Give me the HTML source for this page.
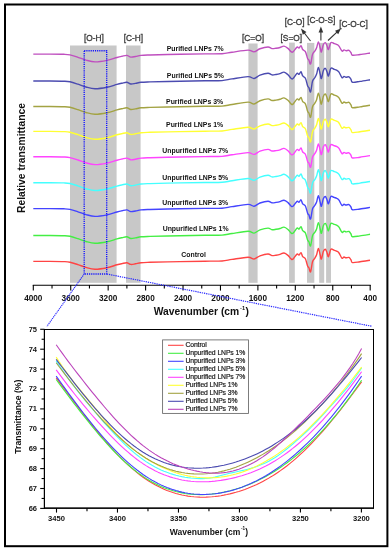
<!DOCTYPE html>
<html><head><meta charset="utf-8"><title>FTIR spectra</title>
<style>
html,body{margin:0;padding:0;background:#fff;}
body{width:391px;height:550px;overflow:hidden;font-family:"Liberation Sans",sans-serif;}
svg{display:block;will-change:transform;}
</style></head><body>
<svg width="391" height="550" viewBox="0 0 391 550">
<rect x="0" y="0" width="391" height="550" fill="#fff"/>
<rect x="70.00" y="45.50" width="46.60" height="237.30" fill="#c8c8c8"/>
<rect x="126.00" y="45.50" width="14.60" height="237.30" fill="#c8c8c8"/>
<rect x="248.40" y="43.50" width="9.20" height="239.30" fill="#c8c8c8"/>
<rect x="289.10" y="42.60" width="5.70" height="240.20" fill="#c8c8c8"/>
<rect x="307.00" y="42.90" width="7.30" height="239.90" fill="#c8c8c8"/>
<rect x="319.20" y="42.90" width="5.00" height="239.90" fill="#c8c8c8"/>
<rect x="326.10" y="42.90" width="4.90" height="239.90" fill="#c8c8c8"/>
<path d="M33.30 54.10 C36.08 54.10 44.88 54.07 50.00 54.10 C55.12 54.13 60.67 54.17 64.00 54.30 C67.33 54.43 67.67 54.40 70.00 54.90 C72.33 55.40 75.33 56.43 78.00 57.30 C80.67 58.17 83.17 59.33 86.00 60.10 C88.83 60.87 91.50 61.85 95.00 61.90 C98.50 61.95 103.33 61.13 107.00 60.40 C110.67 59.67 114.50 58.18 117.00 57.50 C119.50 56.82 120.37 56.65 122.00 56.30 C123.63 55.95 125.33 55.27 126.80 55.40 C128.27 55.53 129.35 56.92 130.80 57.10 C132.25 57.28 133.80 56.78 135.50 56.50 C137.20 56.22 138.58 55.65 141.00 55.40 C143.42 55.15 143.50 55.18 150.00 55.00 C156.50 54.82 170.83 54.48 180.00 54.30 C189.17 54.12 198.00 54.01 205.00 53.91 C212.00 53.81 217.50 54.00 222.00 53.72 C226.50 53.44 227.67 52.80 232.00 52.20 C236.33 51.60 244.33 50.17 248.00 50.11 C251.67 50.05 252.00 52.04 254.00 51.82 C256.00 51.60 257.67 49.57 260.00 48.78 C262.33 47.99 266.00 47.10 268.00 47.07 C270.00 47.04 270.67 48.40 272.00 48.59 C273.33 48.78 274.67 48.40 276.00 48.21 C277.33 48.02 278.67 47.80 280.00 47.45 C281.33 47.10 282.67 45.96 284.00 46.12 C285.33 46.28 286.83 47.48 288.00 48.40 C289.17 49.32 290.17 51.04 291.00 51.63 C291.83 52.22 292.00 52.66 293.00 51.91 C294.00 51.17 296.00 47.80 297.00 47.16 C298.00 46.53 298.33 48.35 299.00 48.12 C299.67 47.88 300.38 45.50 301.00 45.74 C301.62 45.98 301.97 48.56 302.70 49.54 C303.43 50.52 304.58 50.14 305.40 51.63 C306.22 53.12 307.02 57.06 307.60 58.47 C308.18 59.88 308.40 59.17 308.90 60.09 C309.40 61.00 310.00 64.93 310.60 63.98 C311.20 63.03 311.80 56.52 312.50 54.38 C313.20 52.25 314.12 52.25 314.80 51.16 C315.48 50.06 316.00 49.38 316.60 47.83 C317.20 46.28 317.80 41.83 318.40 41.84 C319.00 41.86 319.70 46.25 320.20 47.93 C320.70 49.60 320.88 52.44 321.40 51.91 C321.92 51.39 322.65 46.34 323.30 44.79 C323.95 43.24 324.68 42.45 325.30 42.61 C325.92 42.76 326.47 44.58 327.00 45.74 C327.53 46.90 327.87 50.05 328.50 49.54 C329.13 49.03 329.88 43.71 330.80 42.70 C331.72 41.69 332.97 43.16 334.00 43.46 C335.03 43.76 336.17 44.06 337.00 44.51 C337.83 44.95 338.17 45.03 339.00 46.12 C339.83 47.21 341.17 50.43 342.00 51.06 C342.83 51.69 343.33 49.98 344.00 49.92 C344.67 49.86 345.17 50.62 346.00 50.68 C346.83 50.74 348.17 49.97 349.00 50.30 C349.83 50.63 350.42 51.85 351.00 52.68 C351.58 53.50 351.00 54.94 352.50 55.24 C354.00 55.54 357.08 54.86 360.00 54.48 C362.92 54.10 368.33 53.21 370.00 52.96" fill="none" stroke="#bf4fbf" stroke-width="1.4" stroke-linejoin="round"/>
<path d="M33.30 81.00 C36.08 81.00 44.88 80.97 50.00 81.00 C55.12 81.03 60.67 81.07 64.00 81.20 C67.33 81.33 67.67 81.30 70.00 81.80 C72.33 82.30 75.33 83.33 78.00 84.20 C80.67 85.07 83.17 86.23 86.00 87.00 C88.83 87.77 91.50 88.75 95.00 88.80 C98.50 88.85 103.33 88.03 107.00 87.30 C110.67 86.57 114.50 85.08 117.00 84.40 C119.50 83.72 120.37 83.55 122.00 83.20 C123.63 82.85 125.33 82.17 126.80 82.30 C128.27 82.43 129.35 83.82 130.80 84.00 C132.25 84.18 133.80 83.68 135.50 83.40 C137.20 83.12 138.58 82.55 141.00 82.30 C143.42 82.05 143.50 82.08 150.00 81.90 C156.50 81.72 170.83 81.39 180.00 81.20 C189.17 81.02 198.00 80.89 205.00 80.79 C212.00 80.69 217.50 80.89 222.00 80.58 C226.50 80.27 227.67 79.56 232.00 78.90 C236.33 78.24 244.33 76.66 248.00 76.59 C251.67 76.52 252.00 78.73 254.00 78.48 C256.00 78.23 257.67 76.00 260.00 75.12 C262.33 74.25 266.00 73.27 268.00 73.23 C270.00 73.20 270.67 74.70 272.00 74.91 C273.33 75.12 274.67 74.70 276.00 74.49 C277.33 74.28 278.67 74.03 280.00 73.65 C281.33 73.27 282.67 72.01 284.00 72.18 C285.33 72.36 286.83 73.69 288.00 74.70 C289.17 75.72 290.17 77.62 291.00 78.27 C291.83 78.92 292.00 79.41 293.00 78.58 C294.00 77.76 296.00 74.03 297.00 73.33 C298.00 72.63 298.33 74.65 299.00 74.39 C299.67 74.12 300.38 71.50 301.00 71.76 C301.62 72.02 301.97 74.88 302.70 75.96 C303.43 77.04 304.58 76.62 305.40 78.27 C306.22 79.91 307.02 84.27 307.60 85.83 C308.18 87.39 308.40 86.60 308.90 87.61 C309.40 88.63 310.00 92.97 310.60 91.92 C311.20 90.87 311.80 83.68 312.50 81.31 C313.20 78.95 314.12 78.95 314.80 77.75 C315.48 76.54 316.00 75.78 316.60 74.07 C317.20 72.35 317.80 67.44 318.40 67.45 C319.00 67.47 319.70 72.32 320.20 74.17 C320.70 76.03 320.88 79.16 321.40 78.58 C321.92 78.01 322.65 72.42 323.30 70.71 C323.95 68.99 324.68 68.12 325.30 68.30 C325.92 68.47 326.47 70.48 327.00 71.76 C327.53 73.04 327.87 76.52 328.50 75.96 C329.13 75.40 329.88 69.52 330.80 68.40 C331.72 67.28 332.97 68.91 334.00 69.24 C335.03 69.57 336.17 69.91 337.00 70.39 C337.83 70.88 338.17 70.97 339.00 72.18 C339.83 73.39 341.17 76.94 342.00 77.64 C342.83 78.34 343.33 76.45 344.00 76.38 C344.67 76.31 345.17 77.15 346.00 77.22 C346.83 77.29 348.17 76.43 349.00 76.80 C349.83 77.17 350.42 78.52 351.00 79.42 C351.58 80.33 351.00 81.93 352.50 82.26 C354.00 82.59 357.08 81.84 360.00 81.42 C362.92 81.00 368.33 80.02 370.00 79.74" fill="none" stroke="#4b4bb0" stroke-width="1.4" stroke-linejoin="round"/>
<path d="M33.30 106.50 C36.08 106.50 44.88 106.47 50.00 106.50 C55.12 106.53 60.67 106.57 64.00 106.70 C67.33 106.83 67.67 106.80 70.00 107.30 C72.33 107.80 75.33 108.83 78.00 109.70 C80.67 110.57 83.17 111.73 86.00 112.50 C88.83 113.27 91.50 114.25 95.00 114.30 C98.50 114.35 103.33 113.53 107.00 112.80 C110.67 112.07 114.50 110.58 117.00 109.90 C119.50 109.22 120.37 109.05 122.00 108.70 C123.63 108.35 125.33 107.67 126.80 107.80 C128.27 107.93 129.35 109.32 130.80 109.50 C132.25 109.68 133.80 109.18 135.50 108.90 C137.20 108.62 138.58 108.05 141.00 107.80 C143.42 107.55 143.50 107.58 150.00 107.40 C156.50 107.22 170.83 106.88 180.00 106.70 C189.17 106.52 198.00 106.40 205.00 106.29 C212.00 106.19 217.50 106.40 222.00 106.09 C226.50 105.78 227.67 105.09 232.00 104.44 C236.33 103.79 244.33 102.24 248.00 102.17 C251.67 102.11 252.00 104.27 254.00 104.03 C256.00 103.79 257.67 101.59 260.00 100.73 C262.33 99.87 266.00 98.91 268.00 98.88 C270.00 98.84 270.67 100.32 272.00 100.53 C273.33 100.73 274.67 100.32 276.00 100.11 C277.33 99.91 278.67 99.67 280.00 99.29 C281.33 98.91 282.67 97.68 284.00 97.85 C285.33 98.02 286.83 99.32 288.00 100.32 C289.17 101.32 290.17 103.19 291.00 103.82 C291.83 104.46 292.00 104.94 293.00 104.13 C294.00 103.32 296.00 99.67 297.00 98.98 C298.00 98.29 298.33 100.27 299.00 100.01 C299.67 99.75 300.38 97.18 301.00 97.44 C301.62 97.69 301.97 100.49 302.70 101.56 C303.43 102.62 304.58 102.21 305.40 103.82 C306.22 105.44 307.02 109.71 307.60 111.24 C308.18 112.77 308.40 111.99 308.90 112.99 C309.40 113.98 310.00 118.24 310.60 117.21 C311.20 116.18 311.80 109.13 312.50 106.81 C313.20 104.49 314.12 104.49 314.80 103.31 C315.48 102.12 316.00 101.38 316.60 99.70 C317.20 98.02 317.80 93.20 318.40 93.21 C319.00 93.23 319.70 97.99 320.20 99.81 C320.70 101.62 320.88 104.70 321.40 104.13 C321.92 103.56 322.65 98.09 323.30 96.41 C323.95 94.72 324.68 93.87 325.30 94.04 C325.92 94.21 326.47 96.18 327.00 97.44 C327.53 98.69 327.87 102.11 328.50 101.56 C329.13 101.01 329.88 95.24 330.80 94.14 C331.72 93.04 332.97 94.64 334.00 94.96 C335.03 95.29 336.17 95.62 337.00 96.10 C337.83 96.58 338.17 96.66 339.00 97.85 C339.83 99.03 341.17 102.52 342.00 103.20 C342.83 103.89 343.33 102.04 344.00 101.97 C344.67 101.90 345.17 102.72 346.00 102.79 C346.83 102.86 348.17 102.02 349.00 102.38 C349.83 102.74 350.42 104.06 351.00 104.95 C351.58 105.85 351.00 107.41 352.50 107.74 C354.00 108.06 357.08 107.32 360.00 106.91 C362.92 106.50 368.33 105.54 370.00 105.26" fill="none" stroke="#a3a343" stroke-width="1.4" stroke-linejoin="round"/>
<path d="M33.30 131.40 C36.08 131.40 44.88 131.37 50.00 131.40 C55.12 131.43 60.67 131.47 64.00 131.60 C67.33 131.73 67.67 131.70 70.00 132.20 C72.33 132.70 75.33 133.73 78.00 134.60 C80.67 135.47 83.17 136.63 86.00 137.40 C88.83 138.17 91.50 139.15 95.00 139.20 C98.50 139.25 103.33 138.43 107.00 137.70 C110.67 136.97 114.50 135.48 117.00 134.80 C119.50 134.12 120.37 133.95 122.00 133.60 C123.63 133.25 125.33 132.57 126.80 132.70 C128.27 132.83 129.35 134.22 130.80 134.40 C132.25 134.58 133.80 134.08 135.50 133.80 C137.20 133.52 138.58 132.95 141.00 132.70 C143.42 132.45 143.50 132.48 150.00 132.30 C156.50 132.12 170.83 131.78 180.00 131.60 C189.17 131.42 198.00 131.30 205.00 131.20 C212.00 131.10 217.50 131.30 222.00 131.00 C226.50 130.70 227.67 130.03 232.00 129.40 C236.33 128.77 244.33 127.27 248.00 127.20 C251.67 127.13 252.00 129.23 254.00 129.00 C256.00 128.77 257.67 126.63 260.00 125.80 C262.33 124.97 266.00 124.03 268.00 124.00 C270.00 123.97 270.67 125.40 272.00 125.60 C273.33 125.80 274.67 125.40 276.00 125.20 C277.33 125.00 278.67 124.77 280.00 124.40 C281.33 124.03 282.67 122.83 284.00 123.00 C285.33 123.17 286.83 124.43 288.00 125.40 C289.17 126.37 290.17 128.18 291.00 128.80 C291.83 129.42 292.00 129.88 293.00 129.10 C294.00 128.32 296.00 124.77 297.00 124.10 C298.00 123.43 298.33 125.35 299.00 125.10 C299.67 124.85 300.38 122.35 301.00 122.60 C301.62 122.85 301.97 125.57 302.70 126.60 C303.43 127.63 304.58 127.23 305.40 128.80 C306.22 130.37 307.02 134.52 307.60 136.00 C308.18 137.48 308.40 136.73 308.90 137.70 C309.40 138.67 310.00 142.80 310.60 141.80 C311.20 140.80 311.80 133.95 312.50 131.70 C313.20 129.45 314.12 129.45 314.80 128.30 C315.48 127.15 316.00 126.43 316.60 124.80 C317.20 123.17 317.80 118.48 318.40 118.50 C319.00 118.52 319.70 123.13 320.20 124.90 C320.70 126.67 320.88 129.65 321.40 129.10 C321.92 128.55 322.65 123.23 323.30 121.60 C323.95 119.97 324.68 119.13 325.30 119.30 C325.92 119.47 326.47 121.38 327.00 122.60 C327.53 123.82 327.87 127.13 328.50 126.60 C329.13 126.07 329.88 120.47 330.80 119.40 C331.72 118.33 332.97 119.88 334.00 120.20 C335.03 120.52 336.17 120.83 337.00 121.30 C337.83 121.77 338.17 121.85 339.00 123.00 C339.83 124.15 341.17 127.53 342.00 128.20 C342.83 128.87 343.33 127.07 344.00 127.00 C344.67 126.93 345.17 127.73 346.00 127.80 C346.83 127.87 348.17 127.05 349.00 127.40 C349.83 127.75 350.42 129.03 351.00 129.90 C351.58 130.77 351.00 132.28 352.50 132.60 C354.00 132.92 357.08 132.20 360.00 131.80 C362.92 131.40 368.33 130.47 370.00 130.20" fill="none" stroke="#ffff33" stroke-width="1.4" stroke-linejoin="round"/>
<path d="M33.30 156.80 C36.08 156.80 44.88 156.77 50.00 156.80 C55.12 156.83 60.67 156.87 64.00 157.00 C67.33 157.13 67.67 157.10 70.00 157.60 C72.33 158.10 75.33 159.13 78.00 160.00 C80.67 160.87 83.17 162.03 86.00 162.80 C88.83 163.57 91.50 164.55 95.00 164.60 C98.50 164.65 103.33 163.83 107.00 163.10 C110.67 162.37 114.50 160.88 117.00 160.20 C119.50 159.52 120.37 159.35 122.00 159.00 C123.63 158.65 125.33 157.97 126.80 158.10 C128.27 158.23 129.35 159.62 130.80 159.80 C132.25 159.98 133.80 159.48 135.50 159.20 C137.20 158.92 138.58 158.35 141.00 158.10 C143.42 157.85 143.50 157.88 150.00 157.70 C156.50 157.52 170.83 157.18 180.00 157.00 C189.17 156.82 198.00 156.70 205.00 156.60 C212.00 156.50 217.50 156.70 222.00 156.40 C226.50 156.10 227.67 155.43 232.00 154.80 C236.33 154.17 244.33 152.67 248.00 152.60 C251.67 152.53 252.00 154.63 254.00 154.40 C256.00 154.17 257.67 152.03 260.00 151.20 C262.33 150.37 266.00 149.43 268.00 149.40 C270.00 149.37 270.67 150.80 272.00 151.00 C273.33 151.20 274.67 150.80 276.00 150.60 C277.33 150.40 278.67 150.17 280.00 149.80 C281.33 149.43 282.67 148.23 284.00 148.40 C285.33 148.57 286.83 149.83 288.00 150.80 C289.17 151.77 290.17 153.58 291.00 154.20 C291.83 154.82 292.00 155.28 293.00 154.50 C294.00 153.72 296.00 150.17 297.00 149.50 C298.00 148.83 298.33 150.75 299.00 150.50 C299.67 150.25 300.38 147.75 301.00 148.00 C301.62 148.25 301.97 150.97 302.70 152.00 C303.43 153.03 304.58 152.63 305.40 154.20 C306.22 155.77 307.02 159.92 307.60 161.40 C308.18 162.88 308.40 162.13 308.90 163.10 C309.40 164.07 310.00 168.20 310.60 167.20 C311.20 166.20 311.80 159.35 312.50 157.10 C313.20 154.85 314.12 154.85 314.80 153.70 C315.48 152.55 316.00 151.83 316.60 150.20 C317.20 148.57 317.80 143.88 318.40 143.90 C319.00 143.92 319.70 148.53 320.20 150.30 C320.70 152.07 320.88 155.05 321.40 154.50 C321.92 153.95 322.65 148.63 323.30 147.00 C323.95 145.37 324.68 144.53 325.30 144.70 C325.92 144.87 326.47 146.78 327.00 148.00 C327.53 149.22 327.87 152.53 328.50 152.00 C329.13 151.47 329.88 145.87 330.80 144.80 C331.72 143.73 332.97 145.28 334.00 145.60 C335.03 145.92 336.17 146.23 337.00 146.70 C337.83 147.17 338.17 147.25 339.00 148.40 C339.83 149.55 341.17 152.93 342.00 153.60 C342.83 154.27 343.33 152.47 344.00 152.40 C344.67 152.33 345.17 153.13 346.00 153.20 C346.83 153.27 348.17 152.45 349.00 152.80 C349.83 153.15 350.42 154.43 351.00 155.30 C351.58 156.17 351.00 157.68 352.50 158.00 C354.00 158.32 357.08 157.60 360.00 157.20 C362.92 156.80 368.33 155.87 370.00 155.60" fill="none" stroke="#ff44ff" stroke-width="1.4" stroke-linejoin="round"/>
<path d="M33.30 182.70 C36.08 182.70 44.88 182.67 50.00 182.70 C55.12 182.73 60.67 182.77 64.00 182.90 C67.33 183.03 67.67 183.00 70.00 183.50 C72.33 184.00 75.33 185.03 78.00 185.90 C80.67 186.77 83.17 187.93 86.00 188.70 C88.83 189.47 91.50 190.45 95.00 190.50 C98.50 190.55 103.33 189.73 107.00 189.00 C110.67 188.27 114.50 186.78 117.00 186.10 C119.50 185.42 120.37 185.25 122.00 184.90 C123.63 184.55 125.33 183.87 126.80 184.00 C128.27 184.13 129.35 185.52 130.80 185.70 C132.25 185.88 133.80 185.38 135.50 185.10 C137.20 184.82 138.58 184.25 141.00 184.00 C143.42 183.75 143.50 183.78 150.00 183.60 C156.50 183.42 170.83 183.08 180.00 182.90 C189.17 182.72 198.00 182.60 205.00 182.50 C212.00 182.40 217.50 182.60 222.00 182.30 C226.50 182.00 227.67 181.33 232.00 180.70 C236.33 180.07 244.33 178.57 248.00 178.50 C251.67 178.43 252.00 180.53 254.00 180.30 C256.00 180.07 257.67 177.93 260.00 177.10 C262.33 176.27 266.00 175.33 268.00 175.30 C270.00 175.27 270.67 176.70 272.00 176.90 C273.33 177.10 274.67 176.70 276.00 176.50 C277.33 176.30 278.67 176.07 280.00 175.70 C281.33 175.33 282.67 174.13 284.00 174.30 C285.33 174.47 286.83 175.73 288.00 176.70 C289.17 177.67 290.17 179.48 291.00 180.10 C291.83 180.72 292.00 181.18 293.00 180.40 C294.00 179.62 296.00 176.07 297.00 175.40 C298.00 174.73 298.33 176.65 299.00 176.40 C299.67 176.15 300.38 173.65 301.00 173.90 C301.62 174.15 301.97 176.87 302.70 177.90 C303.43 178.93 304.58 178.53 305.40 180.10 C306.22 181.67 307.02 185.82 307.60 187.30 C308.18 188.78 308.40 188.03 308.90 189.00 C309.40 189.97 310.00 194.10 310.60 193.10 C311.20 192.10 311.80 185.25 312.50 183.00 C313.20 180.75 314.12 180.75 314.80 179.60 C315.48 178.45 316.00 177.73 316.60 176.10 C317.20 174.47 317.80 169.78 318.40 169.80 C319.00 169.82 319.70 174.43 320.20 176.20 C320.70 177.97 320.88 180.95 321.40 180.40 C321.92 179.85 322.65 174.53 323.30 172.90 C323.95 171.27 324.68 170.43 325.30 170.60 C325.92 170.77 326.47 172.68 327.00 173.90 C327.53 175.12 327.87 178.43 328.50 177.90 C329.13 177.37 329.88 171.77 330.80 170.70 C331.72 169.63 332.97 171.18 334.00 171.50 C335.03 171.82 336.17 172.13 337.00 172.60 C337.83 173.07 338.17 173.15 339.00 174.30 C339.83 175.45 341.17 178.83 342.00 179.50 C342.83 180.17 343.33 178.37 344.00 178.30 C344.67 178.23 345.17 179.03 346.00 179.10 C346.83 179.17 348.17 178.35 349.00 178.70 C349.83 179.05 350.42 180.33 351.00 181.20 C351.58 182.07 351.00 183.58 352.50 183.90 C354.00 184.22 357.08 183.50 360.00 183.10 C362.92 182.70 368.33 181.77 370.00 181.50" fill="none" stroke="#44ffff" stroke-width="1.4" stroke-linejoin="round"/>
<path d="M33.30 208.60 C36.08 208.60 44.88 208.57 50.00 208.60 C55.12 208.63 60.67 208.67 64.00 208.80 C67.33 208.93 67.67 208.90 70.00 209.40 C72.33 209.90 75.33 210.93 78.00 211.80 C80.67 212.67 83.17 213.83 86.00 214.60 C88.83 215.37 91.50 216.35 95.00 216.40 C98.50 216.45 103.33 215.63 107.00 214.90 C110.67 214.17 114.50 212.68 117.00 212.00 C119.50 211.32 120.37 211.15 122.00 210.80 C123.63 210.45 125.33 209.77 126.80 209.90 C128.27 210.03 129.35 211.42 130.80 211.60 C132.25 211.78 133.80 211.28 135.50 211.00 C137.20 210.72 138.58 210.15 141.00 209.90 C143.42 209.65 143.50 209.68 150.00 209.50 C156.50 209.32 170.83 208.98 180.00 208.80 C189.17 208.62 198.00 208.50 205.00 208.40 C212.00 208.30 217.50 208.50 222.00 208.20 C226.50 207.90 227.67 207.23 232.00 206.60 C236.33 205.97 244.33 204.47 248.00 204.40 C251.67 204.33 252.00 206.43 254.00 206.20 C256.00 205.97 257.67 203.83 260.00 203.00 C262.33 202.17 266.00 201.23 268.00 201.20 C270.00 201.17 270.67 202.60 272.00 202.80 C273.33 203.00 274.67 202.60 276.00 202.40 C277.33 202.20 278.67 201.97 280.00 201.60 C281.33 201.23 282.67 200.03 284.00 200.20 C285.33 200.37 286.83 201.63 288.00 202.60 C289.17 203.57 290.17 205.38 291.00 206.00 C291.83 206.62 292.00 207.08 293.00 206.30 C294.00 205.52 296.00 201.97 297.00 201.30 C298.00 200.63 298.33 202.55 299.00 202.30 C299.67 202.05 300.38 199.55 301.00 199.80 C301.62 200.05 301.97 202.77 302.70 203.80 C303.43 204.83 304.58 204.43 305.40 206.00 C306.22 207.57 307.02 211.72 307.60 213.20 C308.18 214.68 308.40 213.93 308.90 214.90 C309.40 215.87 310.00 220.00 310.60 219.00 C311.20 218.00 311.80 211.15 312.50 208.90 C313.20 206.65 314.12 206.65 314.80 205.50 C315.48 204.35 316.00 203.63 316.60 202.00 C317.20 200.37 317.80 195.68 318.40 195.70 C319.00 195.72 319.70 200.33 320.20 202.10 C320.70 203.87 320.88 206.85 321.40 206.30 C321.92 205.75 322.65 200.43 323.30 198.80 C323.95 197.17 324.68 196.33 325.30 196.50 C325.92 196.67 326.47 198.58 327.00 199.80 C327.53 201.02 327.87 204.33 328.50 203.80 C329.13 203.27 329.88 197.67 330.80 196.60 C331.72 195.53 332.97 197.08 334.00 197.40 C335.03 197.72 336.17 198.03 337.00 198.50 C337.83 198.97 338.17 199.05 339.00 200.20 C339.83 201.35 341.17 204.73 342.00 205.40 C342.83 206.07 343.33 204.27 344.00 204.20 C344.67 204.13 345.17 204.93 346.00 205.00 C346.83 205.07 348.17 204.25 349.00 204.60 C349.83 204.95 350.42 206.23 351.00 207.10 C351.58 207.97 351.00 209.48 352.50 209.80 C354.00 210.12 357.08 209.40 360.00 209.00 C362.92 208.60 368.33 207.67 370.00 207.40" fill="none" stroke="#4444ff" stroke-width="1.4" stroke-linejoin="round"/>
<path d="M33.30 235.50 C36.08 235.50 44.88 235.47 50.00 235.50 C55.12 235.53 60.67 235.57 64.00 235.70 C67.33 235.83 67.67 235.80 70.00 236.30 C72.33 236.80 75.33 237.83 78.00 238.70 C80.67 239.57 83.17 240.73 86.00 241.50 C88.83 242.27 91.50 243.25 95.00 243.30 C98.50 243.35 103.33 242.53 107.00 241.80 C110.67 241.07 114.50 239.58 117.00 238.90 C119.50 238.22 120.37 238.05 122.00 237.70 C123.63 237.35 125.33 236.67 126.80 236.80 C128.27 236.93 129.35 238.32 130.80 238.50 C132.25 238.68 133.80 238.18 135.50 237.90 C137.20 237.62 138.58 237.05 141.00 236.80 C143.42 236.55 143.50 236.58 150.00 236.40 C156.50 236.22 170.83 235.88 180.00 235.70 C189.17 235.52 198.00 235.40 205.00 235.30 C212.00 235.20 217.50 235.40 222.00 235.10 C226.50 234.80 227.67 234.13 232.00 233.50 C236.33 232.87 244.33 231.37 248.00 231.30 C251.67 231.23 252.00 233.33 254.00 233.10 C256.00 232.87 257.67 230.73 260.00 229.90 C262.33 229.07 266.00 228.13 268.00 228.10 C270.00 228.07 270.67 229.50 272.00 229.70 C273.33 229.90 274.67 229.50 276.00 229.30 C277.33 229.10 278.67 228.87 280.00 228.50 C281.33 228.13 282.67 226.93 284.00 227.10 C285.33 227.27 286.83 228.53 288.00 229.50 C289.17 230.47 290.17 232.28 291.00 232.90 C291.83 233.52 292.00 233.98 293.00 233.20 C294.00 232.42 296.00 228.87 297.00 228.20 C298.00 227.53 298.33 229.45 299.00 229.20 C299.67 228.95 300.38 226.45 301.00 226.70 C301.62 226.95 301.97 229.67 302.70 230.70 C303.43 231.73 304.58 231.33 305.40 232.90 C306.22 234.47 307.02 238.62 307.60 240.10 C308.18 241.58 308.40 240.83 308.90 241.80 C309.40 242.77 310.00 246.90 310.60 245.90 C311.20 244.90 311.80 238.05 312.50 235.80 C313.20 233.55 314.12 233.55 314.80 232.40 C315.48 231.25 316.00 230.53 316.60 228.90 C317.20 227.27 317.80 222.58 318.40 222.60 C319.00 222.62 319.70 227.23 320.20 229.00 C320.70 230.77 320.88 233.75 321.40 233.20 C321.92 232.65 322.65 227.33 323.30 225.70 C323.95 224.07 324.68 223.23 325.30 223.40 C325.92 223.57 326.47 225.48 327.00 226.70 C327.53 227.92 327.87 231.23 328.50 230.70 C329.13 230.17 329.88 224.57 330.80 223.50 C331.72 222.43 332.97 223.98 334.00 224.30 C335.03 224.62 336.17 224.93 337.00 225.40 C337.83 225.87 338.17 225.95 339.00 227.10 C339.83 228.25 341.17 231.63 342.00 232.30 C342.83 232.97 343.33 231.17 344.00 231.10 C344.67 231.03 345.17 231.83 346.00 231.90 C346.83 231.97 348.17 231.15 349.00 231.50 C349.83 231.85 350.42 233.13 351.00 234.00 C351.58 234.87 351.00 236.38 352.50 236.70 C354.00 237.02 357.08 236.30 360.00 235.90 C362.92 235.50 368.33 234.57 370.00 234.30" fill="none" stroke="#44ee44" stroke-width="1.4" stroke-linejoin="round"/>
<path d="M33.30 261.40 C36.08 261.40 44.88 261.37 50.00 261.40 C55.12 261.43 60.67 261.47 64.00 261.60 C67.33 261.73 67.67 261.70 70.00 262.20 C72.33 262.70 75.33 263.73 78.00 264.60 C80.67 265.47 83.17 266.63 86.00 267.40 C88.83 268.17 91.50 269.15 95.00 269.20 C98.50 269.25 103.33 268.43 107.00 267.70 C110.67 266.97 114.50 265.48 117.00 264.80 C119.50 264.12 120.37 263.95 122.00 263.60 C123.63 263.25 125.33 262.57 126.80 262.70 C128.27 262.83 129.35 264.22 130.80 264.40 C132.25 264.58 133.80 264.08 135.50 263.80 C137.20 263.52 138.58 262.95 141.00 262.70 C143.42 262.45 143.50 262.48 150.00 262.30 C156.50 262.12 170.83 261.78 180.00 261.60 C189.17 261.42 198.00 261.30 205.00 261.20 C212.00 261.10 217.50 261.30 222.00 261.00 C226.50 260.70 227.67 260.03 232.00 259.40 C236.33 258.77 244.33 257.27 248.00 257.20 C251.67 257.13 252.00 259.23 254.00 259.00 C256.00 258.77 257.67 256.63 260.00 255.80 C262.33 254.97 266.00 254.03 268.00 254.00 C270.00 253.97 270.67 255.40 272.00 255.60 C273.33 255.80 274.67 255.40 276.00 255.20 C277.33 255.00 278.67 254.77 280.00 254.40 C281.33 254.03 282.67 252.83 284.00 253.00 C285.33 253.17 286.83 254.43 288.00 255.40 C289.17 256.37 290.17 258.18 291.00 258.80 C291.83 259.42 292.00 259.88 293.00 259.10 C294.00 258.32 296.00 254.77 297.00 254.10 C298.00 253.43 298.33 255.35 299.00 255.10 C299.67 254.85 300.38 252.35 301.00 252.60 C301.62 252.85 301.97 255.57 302.70 256.60 C303.43 257.63 304.58 257.23 305.40 258.80 C306.22 260.37 307.02 264.52 307.60 266.00 C308.18 267.48 308.40 266.73 308.90 267.70 C309.40 268.67 310.00 272.80 310.60 271.80 C311.20 270.80 311.80 263.95 312.50 261.70 C313.20 259.45 314.12 259.45 314.80 258.30 C315.48 257.15 316.00 256.43 316.60 254.80 C317.20 253.17 317.80 248.48 318.40 248.50 C319.00 248.52 319.70 253.13 320.20 254.90 C320.70 256.67 320.88 259.65 321.40 259.10 C321.92 258.55 322.65 253.23 323.30 251.60 C323.95 249.97 324.68 249.13 325.30 249.30 C325.92 249.47 326.47 251.38 327.00 252.60 C327.53 253.82 327.87 257.13 328.50 256.60 C329.13 256.07 329.88 250.47 330.80 249.40 C331.72 248.33 332.97 249.88 334.00 250.20 C335.03 250.52 336.17 250.83 337.00 251.30 C337.83 251.77 338.17 251.85 339.00 253.00 C339.83 254.15 341.17 257.53 342.00 258.20 C342.83 258.87 343.33 257.07 344.00 257.00 C344.67 256.93 345.17 257.73 346.00 257.80 C346.83 257.87 348.17 257.05 349.00 257.40 C349.83 257.75 350.42 259.03 351.00 259.90 C351.58 260.77 351.00 262.28 352.50 262.60 C354.00 262.92 357.08 262.20 360.00 261.80 C362.92 261.40 368.33 260.47 370.00 260.20" fill="none" stroke="#ff4444" stroke-width="1.4" stroke-linejoin="round"/>
<text x="195.20" y="50.70" font-family='"Liberation Sans", sans-serif' font-weight="bold" font-size="6.9" text-anchor="middle" fill="#111">Purified LNPs 7%</text>
<text x="195.40" y="77.60" font-family='"Liberation Sans", sans-serif' font-weight="bold" font-size="6.9" text-anchor="middle" fill="#111">Purified LNPs 5%</text>
<text x="194.60" y="103.80" font-family='"Liberation Sans", sans-serif' font-weight="bold" font-size="6.9" text-anchor="middle" fill="#111">Purified LNPs 3%</text>
<text x="194.60" y="126.60" font-family='"Liberation Sans", sans-serif' font-weight="bold" font-size="6.9" text-anchor="middle" fill="#111">Purified LNPs 1%</text>
<text x="195.20" y="152.70" font-family='"Liberation Sans", sans-serif' font-weight="bold" font-size="6.9" text-anchor="middle" fill="#111">Unpurified LNPs 7%</text>
<text x="195.20" y="179.60" font-family='"Liberation Sans", sans-serif' font-weight="bold" font-size="6.9" text-anchor="middle" fill="#111">Unpurified LNPs 5%</text>
<text x="195.20" y="205.10" font-family='"Liberation Sans", sans-serif' font-weight="bold" font-size="6.9" text-anchor="middle" fill="#111">Unpurified LNPs 3%</text>
<text x="195.60" y="231.20" font-family='"Liberation Sans", sans-serif' font-weight="bold" font-size="6.9" text-anchor="middle" fill="#111">Unpurified LNPs 1%</text>
<text x="193.60" y="257.00" font-family='"Liberation Sans", sans-serif' font-weight="bold" font-size="6.9" text-anchor="middle" fill="#111">Control</text>
<rect x="84.2" y="50.7" width="22.5" height="223.3" fill="none" stroke="#1010ff" stroke-width="1.35" stroke-dasharray="1.15 1.0"/>
<text x="93.80" y="40.90" font-family='"Liberation Sans", sans-serif' font-size="8.30" text-anchor="middle" fill="#383838" stroke="#383838" stroke-width="0.3">[O-H]</text>
<text x="133.40" y="40.90" font-family='"Liberation Sans", sans-serif' font-size="8.30" text-anchor="middle" fill="#383838" stroke="#383838" stroke-width="0.3">[C-H]</text>
<text x="253.00" y="41.00" font-family='"Liberation Sans", sans-serif' font-size="8.30" text-anchor="middle" fill="#383838" stroke="#383838" stroke-width="0.3">[C=O]</text>
<text x="291.30" y="41.40" font-family='"Liberation Sans", sans-serif' font-size="8.30" text-anchor="middle" fill="#383838" stroke="#383838" stroke-width="0.3">[S=O]</text>
<text x="294.60" y="25.40" font-family='"Liberation Sans", sans-serif' font-size="8.30" text-anchor="middle" fill="#383838" stroke="#383838" stroke-width="0.3">[C-O]</text>
<text x="321.20" y="23.40" font-family='"Liberation Sans", sans-serif' font-size="8.30" text-anchor="middle" fill="#383838" stroke="#383838" stroke-width="0.3">[C-O-S]</text>
<text x="353.50" y="26.60" font-family='"Liberation Sans", sans-serif' font-size="8.30" text-anchor="middle" fill="#383838" stroke="#383838" stroke-width="0.3">[C-O-C]</text>
<line x1="310.50" y1="41.00" x2="302.82" y2="30.98" stroke="#333" stroke-width="1.1"/>
<path d="M301.00 28.60 L306.47 31.96 L302.82 34.76 Z" fill="#333"/>
<line x1="320.90" y1="40.50" x2="320.90" y2="29.60" stroke="#333" stroke-width="1.1"/>
<path d="M320.90 26.60 L323.20 32.60 L318.60 32.60 Z" fill="#333"/>
<line x1="328.00" y1="40.50" x2="338.80" y2="30.44" stroke="#333" stroke-width="1.1"/>
<path d="M341.00 28.40 L338.18 34.17 L335.04 30.80 Z" fill="#333"/>
<line x1="32.8" y1="285.3" x2="370.7" y2="285.3" stroke="#000" stroke-width="1.1"/>
<line x1="33.30" y1="285" x2="33.30" y2="290.6" stroke="#000" stroke-width="1.1"/>
<text x="33.30" y="301.0" font-family='"Liberation Sans", sans-serif' font-weight="bold" font-size="8.2" text-anchor="middle" fill="#111">4000</text>
<line x1="52.02" y1="285" x2="52.02" y2="288.4" stroke="#000" stroke-width="1.1"/>
<line x1="70.73" y1="285" x2="70.73" y2="290.6" stroke="#000" stroke-width="1.1"/>
<text x="70.73" y="301.0" font-family='"Liberation Sans", sans-serif' font-weight="bold" font-size="8.2" text-anchor="middle" fill="#111">3600</text>
<line x1="89.45" y1="285" x2="89.45" y2="288.4" stroke="#000" stroke-width="1.1"/>
<line x1="108.16" y1="285" x2="108.16" y2="290.6" stroke="#000" stroke-width="1.1"/>
<text x="108.16" y="301.0" font-family='"Liberation Sans", sans-serif' font-weight="bold" font-size="8.2" text-anchor="middle" fill="#111">3200</text>
<line x1="126.88" y1="285" x2="126.88" y2="288.4" stroke="#000" stroke-width="1.1"/>
<line x1="145.60" y1="285" x2="145.60" y2="290.6" stroke="#000" stroke-width="1.1"/>
<text x="145.60" y="301.0" font-family='"Liberation Sans", sans-serif' font-weight="bold" font-size="8.2" text-anchor="middle" fill="#111">2800</text>
<line x1="164.31" y1="285" x2="164.31" y2="288.4" stroke="#000" stroke-width="1.1"/>
<line x1="183.03" y1="285" x2="183.03" y2="290.6" stroke="#000" stroke-width="1.1"/>
<text x="183.03" y="301.0" font-family='"Liberation Sans", sans-serif' font-weight="bold" font-size="8.2" text-anchor="middle" fill="#111">2400</text>
<line x1="201.74" y1="285" x2="201.74" y2="288.4" stroke="#000" stroke-width="1.1"/>
<line x1="220.46" y1="285" x2="220.46" y2="290.6" stroke="#000" stroke-width="1.1"/>
<text x="220.46" y="301.0" font-family='"Liberation Sans", sans-serif' font-weight="bold" font-size="8.2" text-anchor="middle" fill="#111">2000</text>
<line x1="239.18" y1="285" x2="239.18" y2="288.4" stroke="#000" stroke-width="1.1"/>
<line x1="257.89" y1="285" x2="257.89" y2="290.6" stroke="#000" stroke-width="1.1"/>
<text x="257.89" y="301.0" font-family='"Liberation Sans", sans-serif' font-weight="bold" font-size="8.2" text-anchor="middle" fill="#111">1600</text>
<line x1="276.61" y1="285" x2="276.61" y2="288.4" stroke="#000" stroke-width="1.1"/>
<line x1="295.32" y1="285" x2="295.32" y2="290.6" stroke="#000" stroke-width="1.1"/>
<text x="295.32" y="301.0" font-family='"Liberation Sans", sans-serif' font-weight="bold" font-size="8.2" text-anchor="middle" fill="#111">1200</text>
<line x1="314.04" y1="285" x2="314.04" y2="288.4" stroke="#000" stroke-width="1.1"/>
<line x1="332.76" y1="285" x2="332.76" y2="290.6" stroke="#000" stroke-width="1.1"/>
<text x="332.76" y="301.0" font-family='"Liberation Sans", sans-serif' font-weight="bold" font-size="8.2" text-anchor="middle" fill="#111">800</text>
<line x1="351.47" y1="285" x2="351.47" y2="288.4" stroke="#000" stroke-width="1.1"/>
<line x1="370.19" y1="285" x2="370.19" y2="290.6" stroke="#000" stroke-width="1.1"/>
<text x="370.19" y="301.0" font-family='"Liberation Sans", sans-serif' font-weight="bold" font-size="8.2" text-anchor="middle" fill="#111">400</text>
<text x="201.3" y="314.8" font-family='"Liberation Sans", sans-serif' font-weight="bold" font-size="10.3" text-anchor="middle" fill="#111">Wavenumber (cm<tspan font-size="5.6" dx="0.8" dy="-5.2">-1</tspan><tspan dx="0.4" dy="5.2">)</tspan></text>
<text transform="translate(25.3 158) rotate(-90)" x="0" y="0" font-family='"Liberation Sans", sans-serif' font-weight="bold" font-size="10.3" text-anchor="middle" fill="#111">Relative transmittance</text>
<line x1="84.2" y1="274" x2="46.9" y2="326.4" stroke="#2a2aff" stroke-width="1.1" stroke-dasharray="1.3 0.7"/>
<line x1="106.8" y1="274" x2="371.5" y2="326.2" stroke="#2a2aff" stroke-width="1.2" stroke-dasharray="1.3 0.9"/>
<rect x="44.50" y="329.50" width="329.00" height="178.70" fill="none" stroke="#000" stroke-width="1"/>
<line x1="44.4" y1="329" x2="44.4" y2="508.8" stroke="#000" stroke-width="1.25"/>
<line x1="44" y1="508.2" x2="374" y2="508.2" stroke="#000" stroke-width="1.25"/>
<line x1="40.2" y1="508.40" x2="44.5" y2="508.40" stroke="#000" stroke-width="1.1"/>
<text x="37.0" y="510.80" font-family='"Liberation Sans", sans-serif' font-weight="bold" font-size="7.5" text-anchor="end" fill="#111">66</text>
<line x1="41.6" y1="498.45" x2="44.5" y2="498.45" stroke="#000" stroke-width="1.1"/>
<line x1="40.2" y1="488.50" x2="44.5" y2="488.50" stroke="#000" stroke-width="1.1"/>
<text x="37.0" y="490.90" font-family='"Liberation Sans", sans-serif' font-weight="bold" font-size="7.5" text-anchor="end" fill="#111">67</text>
<line x1="41.6" y1="478.55" x2="44.5" y2="478.55" stroke="#000" stroke-width="1.1"/>
<line x1="40.2" y1="468.60" x2="44.5" y2="468.60" stroke="#000" stroke-width="1.1"/>
<text x="37.0" y="471.00" font-family='"Liberation Sans", sans-serif' font-weight="bold" font-size="7.5" text-anchor="end" fill="#111">68</text>
<line x1="41.6" y1="458.65" x2="44.5" y2="458.65" stroke="#000" stroke-width="1.1"/>
<line x1="40.2" y1="448.70" x2="44.5" y2="448.70" stroke="#000" stroke-width="1.1"/>
<text x="37.0" y="451.10" font-family='"Liberation Sans", sans-serif' font-weight="bold" font-size="7.5" text-anchor="end" fill="#111">69</text>
<line x1="41.6" y1="438.75" x2="44.5" y2="438.75" stroke="#000" stroke-width="1.1"/>
<line x1="40.2" y1="428.80" x2="44.5" y2="428.80" stroke="#000" stroke-width="1.1"/>
<text x="37.0" y="431.20" font-family='"Liberation Sans", sans-serif' font-weight="bold" font-size="7.5" text-anchor="end" fill="#111">70</text>
<line x1="41.6" y1="418.85" x2="44.5" y2="418.85" stroke="#000" stroke-width="1.1"/>
<line x1="40.2" y1="408.90" x2="44.5" y2="408.90" stroke="#000" stroke-width="1.1"/>
<text x="37.0" y="411.30" font-family='"Liberation Sans", sans-serif' font-weight="bold" font-size="7.5" text-anchor="end" fill="#111">71</text>
<line x1="41.6" y1="398.95" x2="44.5" y2="398.95" stroke="#000" stroke-width="1.1"/>
<line x1="40.2" y1="389.00" x2="44.5" y2="389.00" stroke="#000" stroke-width="1.1"/>
<text x="37.0" y="391.40" font-family='"Liberation Sans", sans-serif' font-weight="bold" font-size="7.5" text-anchor="end" fill="#111">72</text>
<line x1="41.6" y1="379.05" x2="44.5" y2="379.05" stroke="#000" stroke-width="1.1"/>
<line x1="40.2" y1="369.10" x2="44.5" y2="369.10" stroke="#000" stroke-width="1.1"/>
<text x="37.0" y="371.50" font-family='"Liberation Sans", sans-serif' font-weight="bold" font-size="7.5" text-anchor="end" fill="#111">73</text>
<line x1="41.6" y1="359.15" x2="44.5" y2="359.15" stroke="#000" stroke-width="1.1"/>
<line x1="40.2" y1="349.20" x2="44.5" y2="349.20" stroke="#000" stroke-width="1.1"/>
<text x="37.0" y="351.60" font-family='"Liberation Sans", sans-serif' font-weight="bold" font-size="7.5" text-anchor="end" fill="#111">74</text>
<line x1="41.6" y1="339.25" x2="44.5" y2="339.25" stroke="#000" stroke-width="1.1"/>
<line x1="40.2" y1="329.30" x2="44.5" y2="329.30" stroke="#000" stroke-width="1.1"/>
<text x="37.0" y="331.70" font-family='"Liberation Sans", sans-serif' font-weight="bold" font-size="7.5" text-anchor="end" fill="#111">75</text>
<line x1="56.50" y1="508.2" x2="56.50" y2="512.6" stroke="#000" stroke-width="1.1"/>
<text x="56.50" y="521.3" font-family='"Liberation Sans", sans-serif' font-weight="bold" font-size="7.6" text-anchor="middle" fill="#111">3450</text>
<line x1="86.99" y1="508.2" x2="86.99" y2="511.2" stroke="#000" stroke-width="1.1"/>
<line x1="117.48" y1="508.2" x2="117.48" y2="512.6" stroke="#000" stroke-width="1.1"/>
<text x="117.48" y="521.3" font-family='"Liberation Sans", sans-serif' font-weight="bold" font-size="7.6" text-anchor="middle" fill="#111">3400</text>
<line x1="147.97" y1="508.2" x2="147.97" y2="511.2" stroke="#000" stroke-width="1.1"/>
<line x1="178.46" y1="508.2" x2="178.46" y2="512.6" stroke="#000" stroke-width="1.1"/>
<text x="178.46" y="521.3" font-family='"Liberation Sans", sans-serif' font-weight="bold" font-size="7.6" text-anchor="middle" fill="#111">3350</text>
<line x1="208.95" y1="508.2" x2="208.95" y2="511.2" stroke="#000" stroke-width="1.1"/>
<line x1="239.44" y1="508.2" x2="239.44" y2="512.6" stroke="#000" stroke-width="1.1"/>
<text x="239.44" y="521.3" font-family='"Liberation Sans", sans-serif' font-weight="bold" font-size="7.6" text-anchor="middle" fill="#111">3300</text>
<line x1="269.93" y1="508.2" x2="269.93" y2="511.2" stroke="#000" stroke-width="1.1"/>
<line x1="300.42" y1="508.2" x2="300.42" y2="512.6" stroke="#000" stroke-width="1.1"/>
<text x="300.42" y="521.3" font-family='"Liberation Sans", sans-serif' font-weight="bold" font-size="7.6" text-anchor="middle" fill="#111">3250</text>
<line x1="330.91" y1="508.2" x2="330.91" y2="511.2" stroke="#000" stroke-width="1.1"/>
<line x1="361.40" y1="508.2" x2="361.40" y2="512.6" stroke="#000" stroke-width="1.1"/>
<text x="361.40" y="521.3" font-family='"Liberation Sans", sans-serif' font-weight="bold" font-size="7.6" text-anchor="middle" fill="#111">3200</text>
<text x="209" y="534.6" font-family='"Liberation Sans", sans-serif' font-weight="bold" font-size="8.5" text-anchor="middle" fill="#111">Wavenumber (cm<tspan font-size="4.6" dx="0.6" dy="-4.3">-1</tspan><tspan dx="0.3" dy="4.3">)</tspan></text>
<text transform="translate(21.2 416.7) rotate(-90)" x="0" y="0" font-family='"Liberation Sans", sans-serif' font-weight="bold" font-size="8.6" text-anchor="middle" fill="#111">Transmittance (%)</text>
<path d="M56.20 377.86 L59.19 381.89 L62.19 385.92 L65.18 389.95 L68.18 393.96 L71.17 397.97 L74.16 401.95 L77.16 405.91 L80.15 409.84 L83.15 413.74 L86.14 417.60 L89.14 421.42 L92.13 425.18 L95.12 428.90 L98.12 432.56 L101.11 436.15 L104.11 439.68 L107.10 443.14 L110.09 446.51 L113.09 449.81 L116.08 453.02 L119.08 456.14 L122.07 459.16 L125.06 462.08 L128.06 464.89 L131.05 467.59 L134.05 470.18 L137.04 472.64 L140.04 474.98 L143.03 477.19 L146.02 479.27 L149.02 481.22 L152.01 483.06 L155.01 484.76 L158.00 486.35 L160.99 487.82 L163.99 489.17 L166.98 490.42 L169.98 491.54 L172.97 492.56 L175.96 493.47 L178.96 494.28 L181.95 494.98 L184.95 495.58 L187.94 496.09 L190.94 496.49 L193.93 496.80 L196.92 497.02 L199.92 497.15 L202.91 497.19 L205.91 497.14 L208.90 497.01 L211.89 496.79 L214.89 496.50 L217.88 496.12 L220.88 495.67 L223.87 495.15 L226.86 494.56 L229.86 493.89 L232.85 493.15 L235.85 492.34 L238.84 491.45 L241.84 490.48 L244.83 489.44 L247.82 488.32 L250.82 487.11 L253.81 485.83 L256.81 484.46 L259.80 483.01 L262.79 481.47 L265.79 479.85 L268.78 478.14 L271.78 476.34 L274.77 474.45 L277.76 472.47 L280.76 470.40 L283.75 468.23 L286.75 465.97 L289.74 463.61 L292.74 461.16 L295.73 458.60 L298.72 455.95 L301.72 453.20 L304.71 450.34 L307.71 447.39 L310.70 444.35 L313.69 441.22 L316.69 438.00 L319.68 434.70 L322.68 431.32 L325.67 427.87 L328.66 424.34 L331.66 420.75 L334.65 417.09 L337.65 413.37 L340.64 409.60 L343.64 405.77 L346.63 401.89 L349.62 397.96 L352.62 393.98 L355.61 389.97 L358.61 385.92 L361.60 381.84" fill="none" stroke="#ff4444" stroke-width="1.1" stroke-linejoin="round"/>
<path d="M56.20 379.52 L59.19 383.57 L62.19 387.61 L65.18 391.63 L68.18 395.63 L71.17 399.60 L74.16 403.55 L77.16 407.46 L80.15 411.34 L83.15 415.17 L86.14 418.96 L89.14 422.70 L92.13 426.38 L95.12 430.00 L98.12 433.56 L101.11 437.05 L104.11 440.47 L107.10 443.81 L110.09 447.08 L113.09 450.25 L116.08 453.34 L119.08 456.34 L122.07 459.23 L125.06 462.03 L128.06 464.72 L131.05 467.29 L134.05 469.76 L137.04 472.10 L140.04 474.32 L143.03 476.41 L146.02 478.38 L149.02 480.22 L152.01 481.94 L155.01 483.54 L158.00 485.02 L160.99 486.39 L163.99 487.65 L166.98 488.79 L169.98 489.82 L172.97 490.75 L175.96 491.57 L178.96 492.29 L181.95 492.91 L184.95 493.43 L187.94 493.85 L190.94 494.18 L193.93 494.41 L196.92 494.55 L199.92 494.61 L202.91 494.58 L205.91 494.46 L208.90 494.26 L211.89 493.99 L214.89 493.63 L217.88 493.20 L220.88 492.69 L223.87 492.11 L226.86 491.46 L229.86 490.74 L232.85 489.95 L235.85 489.09 L238.84 488.16 L241.84 487.16 L244.83 486.08 L247.82 484.93 L250.82 483.71 L253.81 482.41 L256.81 481.03 L259.80 479.58 L262.79 478.05 L265.79 476.45 L268.78 474.77 L271.78 473.00 L274.77 471.16 L277.76 469.24 L280.76 467.24 L283.75 465.16 L286.75 462.99 L289.74 460.74 L292.74 458.41 L295.73 455.99 L298.72 453.49 L301.72 450.91 L304.71 448.24 L307.71 445.48 L310.70 442.63 L313.69 439.70 L316.69 436.68 L319.68 433.56 L322.68 430.36 L325.67 427.07 L328.66 423.69 L331.66 420.21 L334.65 416.64 L337.65 412.98 L340.64 409.23 L343.64 405.38 L346.63 401.43 L349.62 397.39 L352.62 393.26 L355.61 389.02 L358.61 384.69 L361.60 380.26" fill="none" stroke="#44ee44" stroke-width="1.1" stroke-linejoin="round"/>
<path d="M56.20 376.11 L59.19 380.33 L62.19 384.53 L65.18 388.69 L68.18 392.81 L71.17 396.90 L74.16 400.94 L77.16 404.94 L80.15 408.88 L83.15 412.77 L86.14 416.61 L89.14 420.38 L92.13 424.10 L95.12 427.74 L98.12 431.32 L101.11 434.83 L104.11 438.25 L107.10 441.60 L110.09 444.87 L113.09 448.05 L116.08 451.14 L119.08 454.14 L122.07 457.05 L125.06 459.85 L128.06 462.55 L131.05 465.15 L134.05 467.64 L137.04 470.02 L140.04 472.28 L143.03 474.43 L146.02 476.45 L149.02 478.37 L152.01 480.16 L155.01 481.85 L158.00 483.42 L160.99 484.88 L163.99 486.24 L166.98 487.48 L169.98 488.62 L172.97 489.65 L175.96 490.58 L178.96 491.40 L181.95 492.13 L184.95 492.75 L187.94 493.27 L190.94 493.70 L193.93 494.03 L196.92 494.26 L199.92 494.41 L202.91 494.45 L205.91 494.41 L208.90 494.28 L211.89 494.05 L214.89 493.74 L217.88 493.34 L220.88 492.86 L223.87 492.30 L226.86 491.65 L229.86 490.92 L232.85 490.11 L235.85 489.21 L238.84 488.23 L241.84 487.17 L244.83 486.03 L247.82 484.81 L250.82 483.50 L253.81 482.11 L256.81 480.64 L259.80 479.08 L262.79 477.44 L265.79 475.72 L268.78 473.91 L271.78 472.02 L274.77 470.05 L277.76 467.99 L280.76 465.85 L283.75 463.63 L286.75 461.32 L289.74 458.93 L292.74 456.46 L295.73 453.90 L298.72 451.25 L301.72 448.52 L304.71 445.71 L307.71 442.81 L310.70 439.83 L313.69 436.76 L316.69 433.61 L319.68 430.38 L322.68 427.06 L325.67 423.65 L328.66 420.16 L331.66 416.58 L334.65 412.92 L337.65 409.17 L340.64 405.34 L343.64 401.42 L346.63 397.41 L349.62 393.32 L352.62 389.15 L355.61 384.88 L358.61 380.54 L361.60 376.10" fill="none" stroke="#4444ff" stroke-width="1.1" stroke-linejoin="round"/>
<path d="M56.20 361.08 L59.19 365.56 L62.19 369.93 L65.18 374.20 L68.18 378.36 L71.17 382.43 L74.16 386.41 L77.16 390.31 L80.15 394.13 L83.15 397.88 L86.14 401.56 L89.14 405.18 L92.13 408.74 L95.12 412.26 L98.12 415.73 L101.11 419.16 L104.11 422.55 L107.10 425.89 L110.09 429.18 L113.09 432.41 L116.08 435.57 L119.08 438.65 L122.07 441.64 L125.06 444.55 L128.06 447.35 L131.05 450.04 L134.05 452.61 L137.04 455.06 L140.04 457.38 L143.03 459.56 L146.02 461.61 L149.02 463.52 L152.01 465.30 L155.01 466.95 L158.00 468.48 L160.99 469.89 L163.99 471.18 L166.98 472.35 L169.98 473.42 L172.97 474.38 L175.96 475.23 L178.96 475.98 L181.95 476.63 L184.95 477.19 L187.94 477.65 L190.94 478.03 L193.93 478.32 L196.92 478.53 L199.92 478.64 L202.91 478.64 L205.91 478.50 L208.90 478.20 L211.89 477.73 L214.89 477.11 L217.88 476.38 L220.88 475.59 L223.87 474.80 L226.86 474.04 L229.86 473.33 L232.85 472.65 L235.85 471.99 L238.84 471.32 L241.84 470.65 L244.83 469.93 L247.82 469.17 L250.82 468.35 L253.81 467.44 L256.81 466.44 L259.80 465.32 L262.79 464.09 L265.79 462.71 L268.78 461.19 L271.78 459.51 L274.77 457.68 L277.76 455.70 L280.76 453.58 L283.75 451.35 L286.75 449.01 L289.74 446.57 L292.74 444.04 L295.73 441.44 L298.72 438.79 L301.72 436.08 L304.71 433.32 L307.71 430.50 L310.70 427.60 L313.69 424.61 L316.69 421.52 L319.68 418.34 L322.68 415.09 L325.67 411.80 L328.66 408.50 L331.66 405.21 L334.65 401.94 L337.65 398.64 L340.64 395.29 L343.64 391.86 L346.63 388.32 L349.62 384.64 L352.62 380.79 L355.61 376.73 L358.61 372.44 L361.60 367.88" fill="none" stroke="#44ffff" stroke-width="1.1" stroke-linejoin="round"/>
<path d="M56.20 369.85 L59.19 373.92 L62.19 377.94 L65.18 381.90 L68.18 385.82 L71.17 389.68 L74.16 393.49 L77.16 397.25 L80.15 400.96 L83.15 404.61 L86.14 408.21 L89.14 411.76 L92.13 415.25 L95.12 418.69 L98.12 422.08 L101.11 425.41 L104.11 428.69 L107.10 431.90 L110.09 435.04 L113.09 438.12 L116.08 441.11 L119.08 444.02 L122.07 446.84 L125.06 449.57 L128.06 452.20 L131.05 454.73 L134.05 457.14 L137.04 459.44 L140.04 461.62 L143.03 463.67 L146.02 465.60 L149.02 467.41 L152.01 469.10 L155.01 470.67 L158.00 472.13 L160.99 473.47 L163.99 474.71 L166.98 475.83 L169.98 476.86 L172.97 477.78 L175.96 478.59 L178.96 479.31 L181.95 479.94 L184.95 480.47 L187.94 480.91 L190.94 481.26 L193.93 481.52 L196.92 481.70 L199.92 481.80 L202.91 481.82 L205.91 481.75 L208.90 481.62 L211.89 481.41 L214.89 481.13 L217.88 480.78 L220.88 480.37 L223.87 479.89 L226.86 479.35 L229.86 478.75 L232.85 478.09 L235.85 477.36 L238.84 476.56 L241.84 475.69 L244.83 474.75 L247.82 473.74 L250.82 472.65 L253.81 471.48 L256.81 470.23 L259.80 468.91 L262.79 467.49 L265.79 465.99 L268.78 464.41 L271.78 462.73 L274.77 460.97 L277.76 459.11 L280.76 457.16 L283.75 455.11 L286.75 452.98 L289.74 450.74 L292.74 448.42 L295.73 445.99 L298.72 443.48 L301.72 440.86 L304.71 438.15 L307.71 435.34 L310.70 432.45 L313.69 429.47 L316.69 426.40 L319.68 423.25 L322.68 420.03 L325.67 416.72 L328.66 413.35 L331.66 409.90 L334.65 406.38 L337.65 402.80 L340.64 399.15 L343.64 395.43 L346.63 391.64 L349.62 387.79 L352.62 383.87 L355.61 379.89 L358.61 375.85 L361.60 371.75" fill="none" stroke="#ff44ff" stroke-width="1.1" stroke-linejoin="round"/>
<path d="M56.20 357.16 L59.19 361.83 L62.19 366.29 L65.18 370.57 L68.18 374.68 L71.17 378.65 L74.16 382.50 L77.16 386.26 L80.15 389.94 L83.15 393.57 L86.14 397.16 L89.14 400.75 L92.13 404.36 L95.12 408.00 L98.12 411.70 L101.11 415.48 L104.11 419.31 L107.10 423.12 L110.09 426.80 L113.09 430.30 L116.08 433.60 L119.08 436.72 L122.07 439.66 L125.06 442.44 L128.06 445.07 L131.05 447.56 L134.05 449.92 L137.04 452.17 L140.04 454.31 L143.03 456.35 L146.02 458.30 L149.02 460.16 L152.01 461.93 L155.01 463.60 L158.00 465.17 L160.99 466.66 L163.99 468.05 L166.98 469.35 L169.98 470.55 L172.97 471.67 L175.96 472.69 L178.96 473.62 L181.95 474.46 L184.95 475.20 L187.94 475.86 L190.94 476.42 L193.93 476.89 L196.92 477.27 L199.92 477.56 L202.91 477.76 L205.91 477.87 L208.90 477.88 L211.89 477.81 L214.89 477.65 L217.88 477.40 L220.88 477.06 L223.87 476.62 L226.86 476.10 L229.86 475.49 L232.85 474.79 L235.85 474.01 L238.84 473.13 L241.84 472.17 L244.83 471.12 L247.82 469.98 L250.82 468.75 L253.81 467.44 L256.81 466.04 L259.80 464.55 L262.79 462.98 L265.79 461.33 L268.78 459.59 L271.78 457.76 L274.77 455.85 L277.76 453.85 L280.76 451.77 L283.75 449.61 L286.75 447.37 L289.74 445.04 L292.74 442.62 L295.73 440.13 L298.72 437.55 L301.72 434.89 L304.71 432.16 L307.71 429.34 L310.70 426.44 L313.69 423.47 L316.69 420.43 L319.68 417.31 L322.68 414.12 L325.67 410.87 L328.66 407.55 L331.66 404.16 L334.65 400.71 L337.65 397.20 L340.64 393.63 L343.64 390.00 L346.63 386.31 L349.62 382.58 L352.62 378.78 L355.61 374.94 L358.61 371.05 L361.60 367.11" fill="none" stroke="#ffff33" stroke-width="1.1" stroke-linejoin="round"/>
<path d="M56.20 362.75 L59.19 366.73 L62.19 370.69 L65.18 374.62 L68.18 378.52 L71.17 382.39 L74.16 386.23 L77.16 390.02 L80.15 393.77 L83.15 397.47 L86.14 401.13 L89.14 404.72 L92.13 408.27 L95.12 411.75 L98.12 415.16 L101.11 418.51 L104.11 421.79 L107.10 424.99 L110.09 428.11 L113.09 431.15 L116.08 434.11 L119.08 436.98 L122.07 439.75 L125.06 442.43 L128.06 445.00 L131.05 447.48 L134.05 449.85 L137.04 452.11 L140.04 454.25 L143.03 456.28 L146.02 458.19 L149.02 459.99 L152.01 461.67 L155.01 463.24 L158.00 464.70 L160.99 466.05 L163.99 467.29 L166.98 468.42 L169.98 469.44 L172.97 470.36 L175.96 471.18 L178.96 471.89 L181.95 472.49 L184.95 473.00 L187.94 473.40 L190.94 473.71 L193.93 473.92 L196.92 474.03 L199.92 474.05 L202.91 473.97 L205.91 473.80 L208.90 473.53 L211.89 473.18 L214.89 472.73 L217.88 472.19 L220.88 471.57 L223.87 470.86 L226.86 470.07 L229.86 469.19 L232.85 468.22 L235.85 467.18 L238.84 466.06 L241.84 464.85 L244.83 463.58 L247.82 462.22 L250.82 460.79 L253.81 459.29 L256.81 457.72 L259.80 456.08 L262.79 454.36 L265.79 452.57 L268.78 450.69 L271.78 448.74 L274.77 446.71 L277.76 444.59 L280.76 442.39 L283.75 440.12 L286.75 437.76 L289.74 435.32 L292.74 432.80 L295.73 430.21 L298.72 427.55 L301.72 424.83 L304.71 422.03 L307.71 419.16 L310.70 416.22 L313.69 413.21 L316.69 410.12 L319.68 406.95 L322.68 403.71 L325.67 400.39 L328.66 396.98 L331.66 393.49 L334.65 389.92 L337.65 386.26 L340.64 382.51 L343.64 378.68 L346.63 374.75 L349.62 370.73 L352.62 366.61 L355.61 362.40 L358.61 358.09 L361.60 353.68" fill="none" stroke="#a3a343" stroke-width="1.1" stroke-linejoin="round"/>
<path d="M56.20 359.33 L59.19 363.30 L62.19 367.26 L65.18 371.18 L68.18 375.09 L71.17 378.95 L74.16 382.79 L77.16 386.58 L80.15 390.33 L83.15 394.04 L86.14 397.69 L89.14 401.28 L92.13 404.82 L95.12 408.30 L98.12 411.70 L101.11 415.04 L104.11 418.30 L107.10 421.49 L110.09 424.59 L113.09 427.61 L116.08 430.53 L119.08 433.36 L122.07 436.10 L125.06 438.73 L128.06 441.26 L131.05 443.67 L134.05 445.98 L137.04 448.17 L140.04 450.23 L143.03 452.17 L146.02 453.99 L149.02 455.69 L152.01 457.27 L155.01 458.73 L158.00 460.08 L160.99 461.32 L163.99 462.45 L166.98 463.47 L169.98 464.38 L172.97 465.19 L175.96 465.90 L178.96 466.51 L181.95 467.02 L184.95 467.44 L187.94 467.77 L190.94 468.00 L193.93 468.15 L196.92 468.20 L199.92 468.18 L202.91 468.07 L205.91 467.88 L208.90 467.62 L211.89 467.28 L214.89 466.86 L217.88 466.38 L220.88 465.82 L223.87 465.20 L226.86 464.51 L229.86 463.75 L232.85 462.93 L235.85 462.05 L238.84 461.10 L241.84 460.07 L244.83 458.98 L247.82 457.82 L250.82 456.59 L253.81 455.29 L256.81 453.91 L259.80 452.46 L262.79 450.93 L265.79 449.33 L268.78 447.65 L271.78 445.90 L274.77 444.07 L277.76 442.15 L280.76 440.16 L283.75 438.09 L286.75 435.94 L289.74 433.70 L292.74 431.38 L295.73 428.97 L298.72 426.48 L301.72 423.91 L304.71 421.25 L307.71 418.50 L310.70 415.68 L313.69 412.78 L316.69 409.80 L319.68 406.74 L322.68 403.62 L325.67 400.43 L328.66 397.17 L331.66 393.84 L334.65 390.45 L337.65 387.00 L340.64 383.50 L343.64 379.94 L346.63 376.32 L349.62 372.66 L352.62 368.94 L355.61 365.18 L358.61 361.37 L361.60 357.53" fill="none" stroke="#4b4bb0" stroke-width="1.1" stroke-linejoin="round"/>
<path d="M56.20 344.76 L59.19 349.00 L62.19 353.16 L65.18 357.26 L68.18 361.30 L71.17 365.28 L74.16 369.22 L77.16 373.11 L80.15 376.96 L83.15 380.77 L86.14 384.56 L89.14 388.31 L92.13 392.04 L95.12 395.72 L98.12 399.36 L101.11 402.96 L104.11 406.51 L107.10 410.00 L110.09 413.43 L113.09 416.79 L116.08 420.08 L119.08 423.30 L122.07 426.43 L125.06 429.47 L128.06 432.43 L131.05 435.28 L134.05 438.03 L137.04 440.67 L140.04 443.20 L143.03 445.61 L146.02 447.90 L149.02 450.08 L152.01 452.14 L155.01 454.10 L158.00 455.94 L160.99 457.68 L163.99 459.32 L166.98 460.86 L169.98 462.30 L172.97 463.64 L175.96 464.88 L178.96 466.04 L181.95 467.10 L184.95 468.08 L187.94 468.97 L190.94 469.78 L193.93 470.51 L196.92 471.15 L199.92 471.72 L202.91 472.20 L205.91 472.59 L208.90 472.87 L211.89 473.06 L214.89 473.13 L217.88 473.09 L220.88 472.92 L223.87 472.63 L226.86 472.21 L229.86 471.65 L232.85 470.95 L235.85 470.13 L238.84 469.17 L241.84 468.08 L244.83 466.86 L247.82 465.51 L250.82 464.03 L253.81 462.43 L256.81 460.70 L259.80 458.84 L262.79 456.86 L265.79 454.76 L268.78 452.53 L271.78 450.18 L274.77 447.72 L277.76 445.15 L280.76 442.50 L283.75 439.76 L286.75 436.95 L289.74 434.09 L292.74 431.17 L295.73 428.23 L298.72 425.26 L301.72 422.28 L304.71 419.28 L307.71 416.27 L310.70 413.24 L313.69 410.18 L316.69 407.09 L319.68 403.95 L322.68 400.77 L325.67 397.54 L328.66 394.26 L331.66 390.91 L334.65 387.48 L337.65 383.94 L340.64 380.27 L343.64 376.44 L346.63 372.42 L349.62 368.18 L352.62 363.71 L355.61 358.96 L358.61 353.93 L361.60 348.57" fill="none" stroke="#bb44bb" stroke-width="1.1" stroke-linejoin="round"/>
<rect x="162.60" y="339.90" width="85.90" height="73.50" fill="#fff" stroke="#666" stroke-width="0.85"/>
<line x1="168" y1="345.30" x2="183.6" y2="345.30" stroke="#ff4444" stroke-width="1.1"/>
<text x="185.4" y="347.40" font-family='"Liberation Sans", sans-serif' font-size="6.8" fill="#1a1a1a" stroke="#1a1a1a" stroke-width="0.2" letter-spacing="-0.08">Control</text>
<line x1="168" y1="353.30" x2="183.6" y2="353.30" stroke="#44ee44" stroke-width="1.1"/>
<text x="185.4" y="355.40" font-family='"Liberation Sans", sans-serif' font-size="6.8" fill="#1a1a1a" stroke="#1a1a1a" stroke-width="0.2" letter-spacing="-0.08">Unpurified LNPs 1%</text>
<line x1="168" y1="361.30" x2="183.6" y2="361.30" stroke="#4444ff" stroke-width="1.1"/>
<text x="185.4" y="363.40" font-family='"Liberation Sans", sans-serif' font-size="6.8" fill="#1a1a1a" stroke="#1a1a1a" stroke-width="0.2" letter-spacing="-0.08">Unpurified LNPs 3%</text>
<line x1="168" y1="369.30" x2="183.6" y2="369.30" stroke="#44ffff" stroke-width="1.1"/>
<text x="185.4" y="371.40" font-family='"Liberation Sans", sans-serif' font-size="6.8" fill="#1a1a1a" stroke="#1a1a1a" stroke-width="0.2" letter-spacing="-0.08">Unpurified LNPs 5%</text>
<line x1="168" y1="377.30" x2="183.6" y2="377.30" stroke="#ff44ff" stroke-width="1.1"/>
<text x="185.4" y="379.40" font-family='"Liberation Sans", sans-serif' font-size="6.8" fill="#1a1a1a" stroke="#1a1a1a" stroke-width="0.2" letter-spacing="-0.08">Unpurified LNPs 7%</text>
<line x1="168" y1="385.30" x2="183.6" y2="385.30" stroke="#ffff33" stroke-width="1.1"/>
<text x="185.4" y="387.40" font-family='"Liberation Sans", sans-serif' font-size="6.8" fill="#1a1a1a" stroke="#1a1a1a" stroke-width="0.2" letter-spacing="-0.08">Purified LNPs 1%</text>
<line x1="168" y1="393.30" x2="183.6" y2="393.30" stroke="#a3a343" stroke-width="1.1"/>
<text x="185.4" y="395.40" font-family='"Liberation Sans", sans-serif' font-size="6.8" fill="#1a1a1a" stroke="#1a1a1a" stroke-width="0.2" letter-spacing="-0.08">Purified LNPs 3%</text>
<line x1="168" y1="401.30" x2="183.6" y2="401.30" stroke="#4b4bb0" stroke-width="1.1"/>
<text x="185.4" y="403.40" font-family='"Liberation Sans", sans-serif' font-size="6.8" fill="#1a1a1a" stroke="#1a1a1a" stroke-width="0.2" letter-spacing="-0.08">Purified LNPs 5%</text>
<line x1="168" y1="409.30" x2="183.6" y2="409.30" stroke="#bb44bb" stroke-width="1.1"/>
<text x="185.4" y="411.40" font-family='"Liberation Sans", sans-serif' font-size="6.8" fill="#1a1a1a" stroke="#1a1a1a" stroke-width="0.2" letter-spacing="-0.08">Purified LNPs 7%</text>
<rect x="5" y="4.5" width="382.4" height="541.7" fill="none" stroke="#000" stroke-width="2"/>
</svg>
</body></html>
